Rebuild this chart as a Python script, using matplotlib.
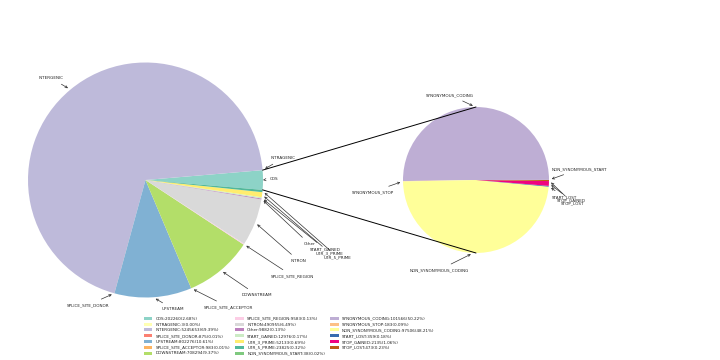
import matplotlib.pyplot as plt
from matplotlib.patches import ConnectionPatch
import numpy as np

# left pie: all effect types
left_names = ['CDS', 'INTRAGENIC', 'INTERGENIC', 'SPLICE_SITE_DONOR', 'UPSTREAM',
              'SPLICE_SITE_ACCEPTOR', 'DOWNSTREAM', 'SPLICE_SITE_REGION', 'INTRON',
              'Other', 'START_GAINED', 'UTR_3_PRIME', 'UTR_5_PRIME']
left_counts = [202260, 3, 5245653, 875, 802276, 983, 708294, 9583, 490955,
               9882, 12976, 52133, 23825]

# right pie: breakdown of CDS
right_names = ['NON_SYNONYMOUS_START', 'SYNONYMOUS_CODING', 'SYNONYMOUS_STOP',
               'NON_SYNONYMOUS_CODING', 'START_LOST', 'STOP_GAINED', 'STOP_LOST']
right_counts = [38, 101566, 183, 97506, 359, 2135, 473]

left_colors = ['#8dd3c7', '#ffffb3', '#bebada', '#fb8072', '#80b1d3', '#fdb462',
               '#b3de69', '#fccde5', '#d9d9d9', '#bc80bd', '#ccebc5', '#ffed6f',
               '#52b89a']
right_colors = ['#7fc97f', '#beaed4', '#fdc086', '#ffff99', '#386cb0', '#f0027f',
                '#bf5b17']

# label text spots (pie radius units, relative to each pie centre)
left_text = {'CDS': (1.094, 0.01), 'INTRAGENIC': (1.174, 0.187),
             'INTERGENIC': (-0.804, 0.868), 'SPLICE_SITE_DONOR': (-0.489, -1.064),
             'UPSTREAM': (0.234, -1.098), 'SPLICE_SITE_ACCEPTOR': (0.706, -1.081),
             'DOWNSTREAM': (0.949, -0.979), 'SPLICE_SITE_REGION': (1.251, -0.817),
             'INTRON': (1.306, -0.689), 'Other': (1.396, -0.545),
             'START_GAINED': (1.528, -0.587), 'UTR_3_PRIME': (1.57, -0.621),
             'UTR_5_PRIME': (1.634, -0.655)}
right_text = {'NON_SYNONYMOUS_START': (1.418, 0.151), 'SYNONYMOUS_CODING': (-0.356, 1.164),
              'SYNONYMOUS_STOP': (-1.418, -0.164), 'NON_SYNONYMOUS_CODING': (-0.507, -1.233),
              'START_LOST': (1.212, -0.233), 'STOP_GAINED': (1.301, -0.274),
              'STOP_LOST': (1.322, -0.315)}

fig = plt.figure(figsize=(7.2, 3.6), dpi=100)
W, H = 720, 360


def pie_axes(cx, cy, r, lim=1.2):
    half = lim * r
    ax = fig.add_axes([(cx - half) / W, (H - cy - half) / H, 2 * half / W, 2 * half / H])
    return ax


ax1 = pie_axes(145.5, 180, 117.5)
ax2 = pie_axes(476, 180, 73)

left_total = sum(left_counts)
right_total = sum(right_counts)
cds_angle = 360 * left_counts[0] / left_total

w1, _ = ax1.pie(left_counts, colors=left_colors, startangle=-cds_angle / 2,
                radius=1, frame=True)
w2, _ = ax2.pie(right_counts, colors=right_colors, startangle=0, radius=1, frame=True)
for ax in (ax1, ax2):
    ax.set_xlim(-1.2, 1.2)
    ax.set_ylim(-1.2, 1.2)
    ax.axis('off')

arrow = dict(arrowstyle='->', lw=0.5, color='#333333', mutation_scale=4)


def annotate(ax, wedges, names, spots):
    for w, name in zip(wedges, names):
        mid = np.deg2rad((w.theta1 + w.theta2) / 2)
        tip = (np.cos(mid), np.sin(mid))
        ax.annotate(name, xy=tip, xytext=spots[name], fontsize=3, ha='center',
                    va='center', color='#222222', arrowprops=arrow,
                    annotation_clip=False)


annotate(ax1, w1, left_names, left_text)
annotate(ax2, w2, right_names, right_text)

# lines joining the CDS slice to the breakdown pie
t1 = np.deg2rad(w1[0].theta2)
t2 = np.deg2rad(w1[0].theta1)
for (xa, ya), (xb, yb) in [((0, 1), (np.cos(t1), np.sin(t1))),
                           ((0, -1), (np.cos(t2), np.sin(t2)))]:
    con = ConnectionPatch(xyA=(xa, ya), coordsA=ax2.transData,
                          xyB=(xb, yb), coordsB=ax1.transData,
                          color='black', lw=0.7)
    fig.add_artist(con)

labels = [f'{n}:{c}({100 * c / left_total:.2f}%)' for n, c in zip(left_names, left_counts)]
labels += [f'{n}:{c}({100 * c / right_total:.2f}%)' for n, c in zip(right_names, right_counts)]
fig.legend(list(w1) + list(w2), labels, ncol=3, fontsize=3, frameon=False,
           loc='upper left', bbox_to_anchor=(140 / W, 1 - 313 / H),
           labelspacing=0.43, columnspacing=1.3, labelcolor='#222222')

fig.savefig('out.png', dpi=100)
